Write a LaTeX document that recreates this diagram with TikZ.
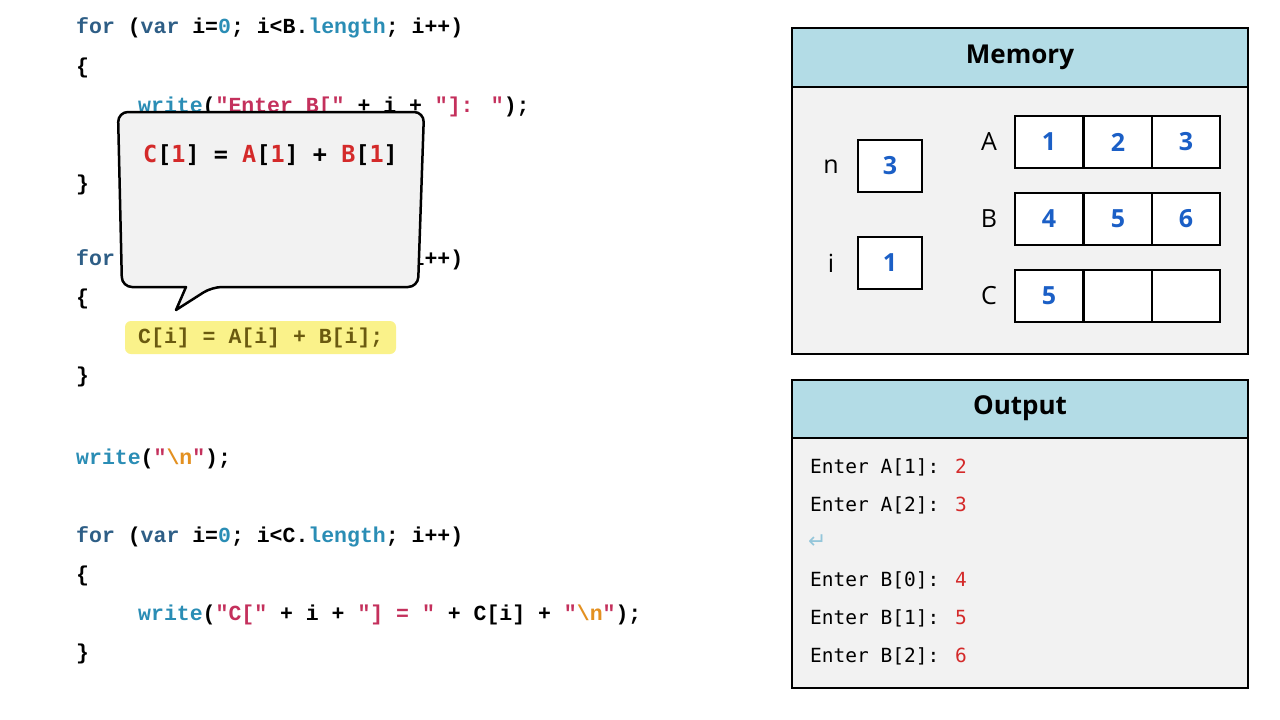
\documentclass[tikz,border=0pt]{standalone}
\usepackage{fontspec}
\setmainfont{Open Sans}
\newfontfamily\code{Liberation Mono}
\newfontfamily\cons{DejaVu Sans Mono}
\newfontfamily\djsans{DejaVu Sans}
\definecolor{kw}{HTML}{2E5E86}
\definecolor{tl}{HTML}{2A8DB5}
\definecolor{st}{HTML}{C4305C}
\definecolor{nl}{HTML}{E39020}
\definecolor{hd}{HTML}{B3DCE6}
\definecolor{bd}{HTML}{F2F2F2}
\definecolor{nb}{HTML}{1B5FC6}
\definecolor{rd}{HTML}{D42A2A}
\definecolor{hl}{HTML}{FAF28A}
\definecolor{hlt}{HTML}{6A5A10}
\begin{document}
\begin{tikzpicture}[x=1pt,y=-1pt,
  cl/.style={anchor=base west,inner sep=0pt,font=\code\bfseries\fontsize{21.5}{21.5}\selectfont},
  ol/.style={anchor=base west,inner sep=0pt,font=\cons\fontsize{19.5}{19.5}\selectfont},
  cell/.style={draw,line width=1.5pt,fill=white,minimum width=68pt,minimum height=52pt,inner sep=0pt,font=\bfseries\fontsize{25}{25}\selectfont,text=nb},
  lab/.style={font=\fontsize{25}{25}\selectfont,inner sep=0pt},
  hdr/.style={font=\bfseries\fontsize{26}{26}\selectfont,inner sep=0pt}]
\useasboundingbox (0,0) rectangle (1280,720);
\fill[white] (0,0) rectangle (1280,720);
% code
\node[cl] (l1) at (76,34) {\textcolor{kw}{for} (\textcolor{kw}{var} i=\textcolor{tl}{0}; i<B.\textcolor{tl}{length}; i++)};
\node[cl] (l2) at (76,73) {\{};
\node[cl] (l3) at (138,112) {\textcolor{tl}{write}(\textcolor{st}{"Enter B["} + i + \textcolor{st}{"]: "});};
\node[cl] (l4) at (76,190) {\}};
\node[cl] (l5) at (76,265) {\textcolor{kw}{for} (\textcolor{kw}{var} i=\textcolor{tl}{0}; i<C.\textcolor{tl}{length}; i++)};
\node[cl] (l6) at (76,304) {\{};
\fill[hl,rounded corners=6pt] (125,321) rectangle (396,354);
\node[cl,text=hlt] (l7) at (138,343) {C[i] = A[i] + B[i];};
\node[cl] (l8) at (76,382) {\}};
\node[cl] (l9) at (76,464) {\textcolor{tl}{write}(\textcolor{st}{"}\textcolor{nl}{\textbackslash n}\textcolor{st}{"});};
\node[cl] (l10) at (76,542) {\textcolor{kw}{for} (\textcolor{kw}{var} i=\textcolor{tl}{0}; i<C.\textcolor{tl}{length}; i++)};
\node[cl] (l11) at (76,581) {\{};
\node[cl] (l12) at (138,620) {\textcolor{tl}{write}(\textcolor{st}{"C["} + i + \textcolor{st}{"] = "} + C[i] + \textcolor{st}{"}\textcolor{nl}{\textbackslash n}\textcolor{st}{"});};
\node[cl] (l13) at (76,659) {\}};
% callout
\draw[line width=2.5pt,fill=bd,rounded corners=10pt,line join=round]
  (128,112) -- (424,112) -- (418,287) -- (212,287) [sharp corners] -- (176,310) -- (186,287) [rounded corners=10pt] -- (122,287) -- (118,112) -- (128,112);
\node[anchor=base west,inner sep=0pt,font=\cons\bfseries\fontsize{23.5}{23.5}\selectfont] (co) at (143,162)
 {\textcolor{rd}{C}[\textcolor{rd}{1}] = \textcolor{rd}{A}[\textcolor{rd}{1}] + \textcolor{rd}{B}[\textcolor{rd}{1}]};
% memory
\draw[line width=1.5pt,fill=bd] (792,28) rectangle (1248,354);
\draw[line width=1.5pt,fill=hd] (792,28) rectangle (1248,87);
\node[hdr] (mh) at (1020,57) {Memory};
\node[lab] (ln) at (831,167) {n};
\node[cell,minimum width=64pt] (n) at (890,166) {3};
\node[lab] (li) at (831,263) {i};
\node[cell,minimum width=64pt] (i) at (890,263) {1};
\node[lab] (la) at (989,142) {A};
\node[lab] (lb) at (989,219) {B};
\node[lab] (lc) at (989,296) {C};
\foreach \r/\y/\a/\b/\c in {A/142/1/2/3,B/219/4/5/6,C/296/5//}{
  \node[cell] (\r1) at (1049,\y) {\a};
  \node[cell] (\r2) at (1118,\y) {\b};
  \node[cell] (\r3) at (1186,\y) {\c};
}
% output
\draw[line width=1.5pt,fill=bd] (792,380) rectangle (1248,688);
\draw[line width=1.5pt,fill=hd] (792,380) rectangle (1248,438);
\node[hdr] (oh) at (1020,408) {Output};
\node[ol] (o1) at (810,473) {Enter A[1]: \textcolor{rd}{2}};
\node[ol] (o2) at (810,511) {Enter A[2]: \textcolor{rd}{3}};
\node[ol,text=tl!50,font=\djsans\fontsize{22}{22}\selectfont] (o3) at (808,548) {↵};
\node[ol] (o4) at (810,586) {Enter B[0]: \textcolor{rd}{4}};
\node[ol] (o5) at (810,624) {Enter B[1]: \textcolor{rd}{5}};
\node[ol] (o6) at (810,662) {Enter B[2]: \textcolor{rd}{6}};
\end{tikzpicture}
\end{document}
